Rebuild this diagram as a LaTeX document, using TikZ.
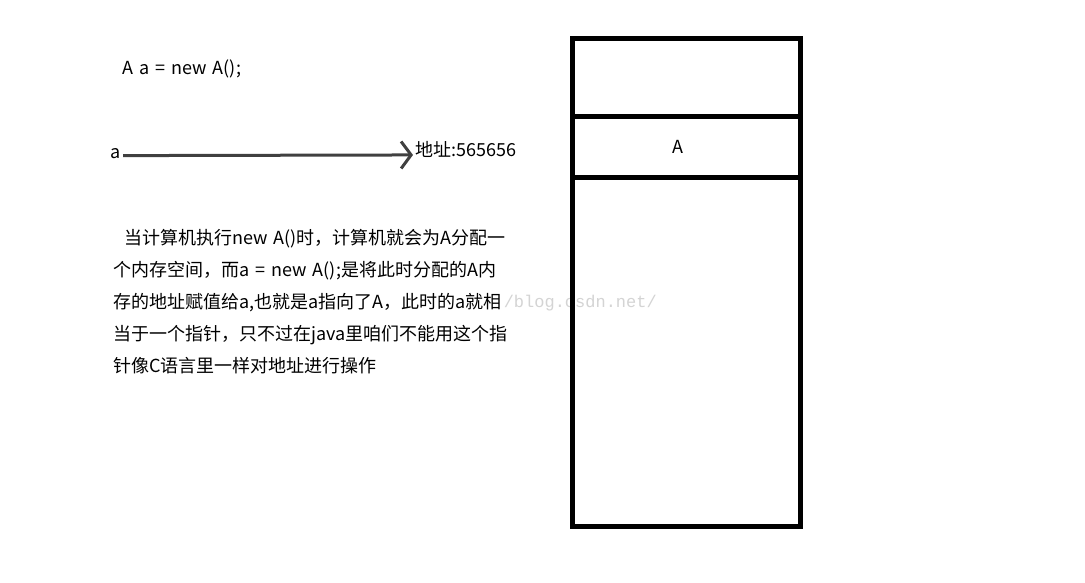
\documentclass[tikz,border=0pt]{standalone}
\usepackage{fontspec}
\newfontfamily\cjk[WordSpace=1.5]{Noto Sans CJK SC}
\setmonofont{Liberation Mono}
\usetikzlibrary{arrows.meta}
\tikzset{
  txt/.style={anchor=base west, inner sep=0pt, font=\cjk\fontsize{18}{32}\selectfont, text=black},
  memline/.style={line width=5pt, draw=black},
  ptr/.style={line width=3pt, draw=black!75, -{Straight Barb[length=10pt,width=27pt,line width=3pt]}},
}
\begin{document}
\begin{tikzpicture}[x=1pt,y=-1pt]
\useasboundingbox[fill=white] (0,0) rectangle (1085,583);
% code line
\node[txt] (code) at (122,74.5) {A a = new A();};
% pointer
\node[txt] (a) at (110.5,159) {a};
\node[txt] (addr) at (415,157) {地址:565656};
\draw[ptr] ([xshift=2pt,yshift=-1.5pt]a.east) -- ([xshift=-2pt,yshift=-5pt]addr.west);
% watermark
\node[anchor=base east, inner sep=0pt, font=\ttfamily\fontsize{17}{17}\selectfont, text=black!17] (wm) at (657,307) {/blog.csdn.net/};
% explanation
\node[txt] (l1) at (113,244) {\hspace*{11pt}当计算机执行new A()时，计算机就会为A分配一};
\node[txt] (l2) at (113,276) {个内存空间，而a = new A();是将此时分配的A内};
\node[txt] (l3) at (113,308) {存的地址赋值给a,也就是a指向了A，此时的a就相};
\node[txt] (l4) at (113,340) {当于一个指针，只不过在java里咱们不能用这个指};
\node[txt] (l5) at (113,372) {针像C语言里一样对地址进行操作};
% memory box
\draw[memline] (572.5,39) rectangle (800,526);
\draw[memline] (572.5,116.7) -- (800.5,116.7);
\draw[memline] (572.5,177.7) -- (800.5,177.7);
\node[txt, anchor=center] (objA) at (678,147) {A};
\end{tikzpicture}
\end{document}
